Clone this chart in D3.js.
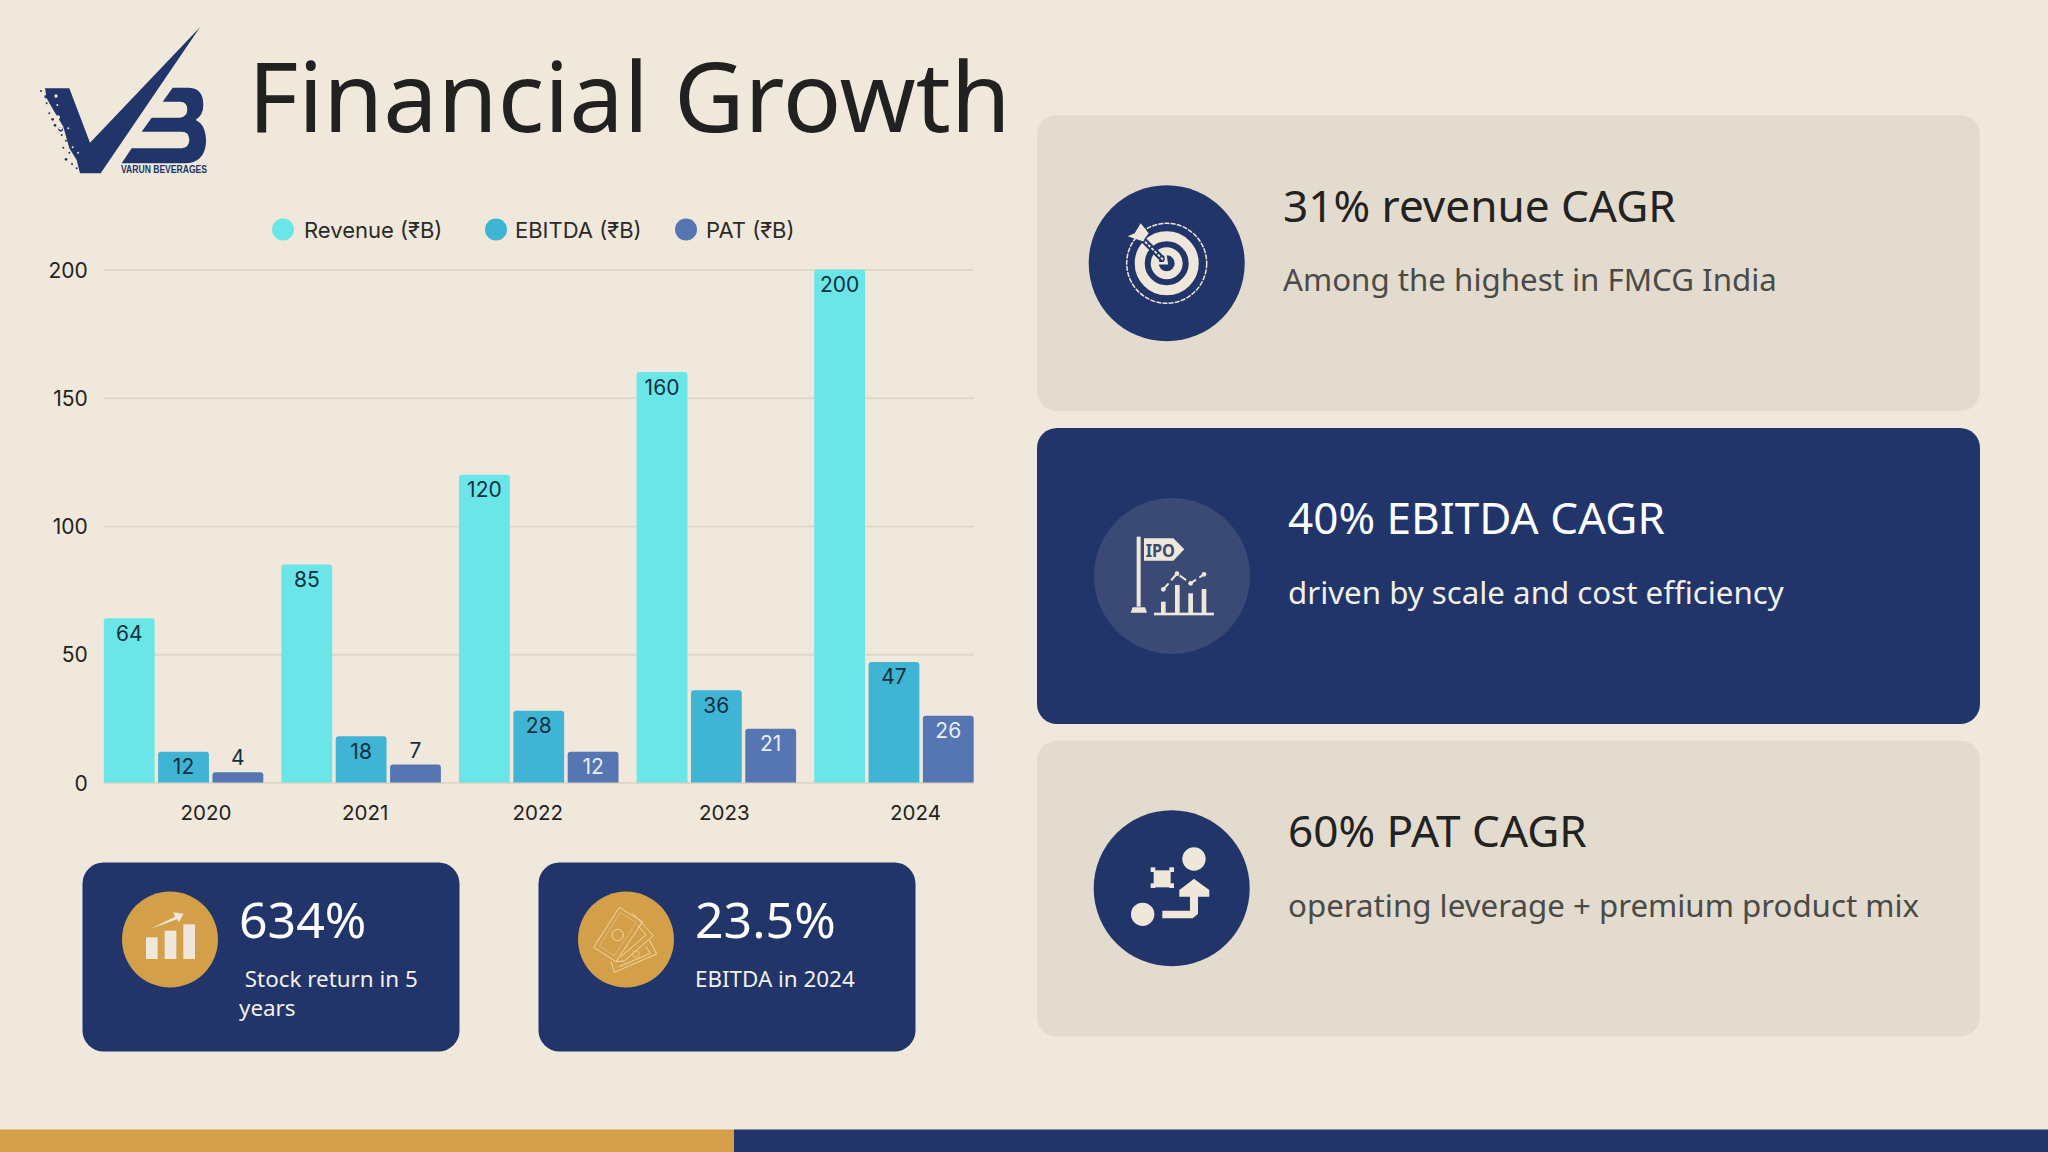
<!DOCTYPE html>
<html><head><meta charset="utf-8">
<script src="https://cdn.jsdelivr.net/npm/d3@7/dist/d3.min.js"></script>
<style>html,body{margin:0;padding:0;background:#f0e8da;overflow:hidden}svg{display:block}</style>
</head><body><svg id="c" width="2048" height="1152"></svg>
<script>
const titleText = "Financial Growth";
const years = ["2020","2021","2022","2023","2024"];
const seriesNames = ["Revenue (₹B)","EBITDA (₹B)","PAT (₹B)"];
const revenue = [64,85,120,160,200];
const ebitda = [12,18,28,36,47];
const pat = [4,7,12,21,26];
const yTicks = [0,50,100,150,200];
const seriesColors = ["#6ae5e8","#3fb4d5","#5576b3"];
const labelColors = ["#12303f","#12303f","#e8eef6"];
const statValues = ["634%","23.5%"];
const statLines = [[" Stock return in 5","years"],["EBITDA in 2024"]];
const cardTitles = ["31% revenue CAGR","40% EBITDA CAGR","60% PAT CAGR"];
const cardSubs = ["Among the highest in FMCG India","driven by scale and cost efficiency","operating leverage + premium product mix"];

const NAVY="#21356b", GOLD="#d39f49", BG="#f0e8da", CARD="#e3dbcd", ICON="#efe7d9";
const SANS="'Noto Sans',sans-serif", GEO="Inter,'Noto Sans',sans-serif";
const svg=d3.select("#c");
svg.append("rect").attr("width",2048).attr("height",1152).attr("fill",BG);

// title
svg.append("text").attr("x",248).attr("y",131.5).attr("font-family",SANS).attr("font-size",97)
  .attr("fill","#212121").text(titleText);

// logo
const logo=svg.append("g").attr("transform","translate(30,20) scale(0.3333)").attr("fill","#21356b");
logo.append("path").attr("d","M45 205L118 205L180 368L510 22L212 460L150 460L140 420L118 385L100 320L70 270L50 235Z");
logo.append("path").attr("d","M398 245L428 203L478 203Q520 205 520 255Q520 285 497 300Q530 315 528 370Q522 430 465 430L275 430L305 385L455 385Q478 382 478 360Q478 335 455 335L335 335L365 293L450 293Q472 290 472 268Q472 245 450 245Z");
[[33,213,3],[48,230,5],[58,280,3],[68,298,4],[75,316,4],[92,328,7],[95,345,3],[108,362,3],[100,383,3],[118,398,3],[108,418,4],[126,432,3],[140,445,3],[60,240,3],[50,250,3]]
 .forEach(d=>logo.append("circle").attr("cx",d[0]).attr("cy",d[1]).attr("r",d[2]));
[[78,228,5],[82,255,3],[84,292,6],[92,325,5],[115,325,3],[128,382,3],[144,398,3]]
 .forEach(d=>logo.append("circle").attr("cx",d[0]).attr("cy",d[1]).attr("r",d[2]).attr("fill",BG));
svg.append("text").attr("x",121).attr("y",173).attr("font-family","'Liberation Sans',sans-serif")
  .attr("font-weight",700).attr("font-size",10.5).attr("textLength",86).attr("lengthAdjust","spacingAndGlyphs").attr("fill",NAVY).text("VARUN BEVERAGES");

// legend
const legendDot=[283,496,686], legendText=[304,515,706];
seriesNames.forEach((n,i)=>{
  svg.append("circle").attr("cx",legendDot[i]).attr("cy",229.5).attr("r",11).attr("fill",seriesColors[i]);
  svg.append("text").attr("x",legendText[i]).attr("y",238).attr("font-family",GEO).attr("font-size",22).attr("fill","#2a2a2a").text(n);
});

// chart
const x0=d3.scaleBand().domain(years).range([103.8,973.7]).paddingInner(0.102).paddingOuter(0);
const x1=d3.scaleBand().domain([0,1,2]).range([0,x0.bandwidth()]).paddingInner(0.065).paddingOuter(0);
const y=d3.scaleLinear().domain([0,200]).range([782.5,269.5]);

const yAxis=d3.axisLeft(y).tickValues(yTicks).tickSize(-(973.7-103.8)).tickPadding(16);
const gy=svg.append("g").attr("transform","translate(103.8,0)").call(yAxis);
gy.select(".domain").remove();
gy.selectAll(".tick line").attr("stroke","#dfd7c8").attr("stroke-width",2);
gy.selectAll(".tick text").attr("font-family",GEO).attr("font-size",21).attr("fill","#222").attr("dy","0.36em");

const xLabelShift={"2020":22.5,"2021":4,"2022":-1,"2023":8,"2024":21.5};
const xAxis=d3.axisBottom(x0).tickSize(0).tickPadding(0);
const gx=svg.append("g").attr("transform","translate(0,805.5)").call(xAxis);
gx.select(".domain").remove();
gx.selectAll(".tick text").attr("font-family",GEO).attr("font-size",20.5).attr("fill","#222")
  .attr("dy","0.72em").attr("transform",d=>`translate(${xLabelShift[d]},0)`);

const allSeries=[revenue,ebitda,pat];
function barPath(px,w,top,base,r){
  const p=d3.path();
  p.moveTo(px,base);p.lineTo(px,top+r);p.quadraticCurveTo(px,top,px+r,top);
  p.lineTo(px+w-r,top);p.quadraticCurveTo(px+w,top,px+w,top+r);p.lineTo(px+w,base);p.closePath();
  return p.toString();
}
const fits=v=>y(0)-y(v)>25;
allSeries.forEach((vals,si)=>{
  const g=svg.append("g");
  g.selectAll("path").data(vals).join("path")
    .attr("d",(v,i)=>barPath(x0(years[i])+x1(si),x1.bandwidth(),y(v),y(0),3))
    .attr("fill",seriesColors[si]);
  g.selectAll("text").data(vals).join("text")
    .attr("x",(v,i)=>x0(years[i])+x1(si)+x1.bandwidth()/2)
    .attr("y",v=>fits(v)?y(v)+22.5:y(v)-7)
    .attr("text-anchor","middle").attr("font-family",GEO).attr("font-size",21)
    .attr("fill",v=>fits(v)?labelColors[si]:"#12303f")
    .text(v=>v);
});

// stat cards
const statX=[82.5,538.5], statCx=[170,626], statTextX=[239,695];
statValues.forEach((v,i)=>{
  svg.append("rect").attr("x",statX[i]).attr("y",862.5).attr("width",377).attr("height",189).attr("rx",21).attr("fill",NAVY);
  svg.append("circle").attr("cx",statCx[i]).attr("cy",939.5).attr("r",48).attr("fill",GOLD);
  svg.append("text").attr("x",statTextX[i]).attr("y",937.5).attr("font-family",SANS).attr("font-size",50).attr("fill","#fff").text(v);
  statLines[i].forEach((l,k)=>{
    svg.append("text").style("white-space","pre").attr("x",statTextX[i]).attr("y",987+k*29).attr("font-family",SANS).attr("font-size",22.4).attr("fill","#f4f0e8").text(l);
  });
});
// stat icon 1
const si1=svg.append("g").attr("transform","translate(115,885) scale(0.3333)").attr("fill",ICON);
[[93,157,35,65],[149,137,35,85],[205,118,35,104]].forEach(d=>si1.append("rect").attr("x",d[0]).attr("y",d[1]).attr("width",d[2]).attr("height",d[3]));
si1.append("path").attr("d","M105 132L180 95L175 82L206 86L192 112L186 103Z");
// stat icon 2
const si2=svg.append("g").attr("transform","translate(571,885) scale(0.3333)").attr("fill","none").attr("stroke","#efd9a8").attr("stroke-width",3).attr("stroke-linejoin","round");
si2.append("path").attr("d","M145 67L215 110L135 230L68 187Z");
si2.append("path").attr("d","M148 83L196 113L130 212L85 183Z").attr("stroke-width",1.5);
si2.append("circle").attr("cx",140).attr("cy",150).attr("r",17);
si2.append("path").attr("d","M185 85L247 152L160 228L135 230M200 120L225 150L150 215");
si2.append("path").attr("d","M235 165L257 207L130 262L120 230M225 185L238 205L145 245");
si2.append("circle").attr("cx",195).attr("cy",207).attr("r",10).attr("stroke-width",2);

// bottom band
svg.append("rect").attr("x",0).attr("y",1129.5).attr("width",734).attr("height",22.5).attr("fill",GOLD);
svg.append("rect").attr("x",734).attr("y",1129.5).attr("width",1314).attr("height",22.5).attr("fill",NAVY);

// right cards
const cardY=[115,428,740.5], cardFill=[CARD,NAVY,CARD];
const circleC=[[1166.7,263.3],[1172,576],[1171.7,888.3]];
const circleFill=[NAVY,"#3a4a75",NAVY];
const textX=[1283,1288,1288];
const titleBase=[221.5,534,847], subBase=[291,603.5,916.5];
const titleCol=["#222","#fff","#222"], subCol=["#4a4a48","#f2efe8","#4a4a48"];
cardTitles.forEach((t,i)=>{
  svg.append("rect").attr("x",1037).attr("y",cardY[i]).attr("width",943).attr("height",296).attr("rx",20).attr("fill",cardFill[i]);
  svg.append("circle").attr("cx",circleC[i][0]).attr("cy",circleC[i][1]).attr("r",78).attr("fill",circleFill[i]);
  svg.append("text").attr("x",textX[i]).attr("y",titleBase[i]).attr("font-family",SANS).attr("font-size",44.1).attr("fill",titleCol[i]).text(t);
  svg.append("text").attr("x",textX[i]).attr("y",subBase[i]).attr("font-family",SANS).attr("font-size",31.25).attr("fill",subCol[i]).text(cardSubs[i]);
});
// target icon
const t=svg.append("g").attr("transform","translate(1166.7,263.3)").attr("fill","none").attr("stroke",ICON);
t.append("circle").attr("r",40).attr("stroke-width",1.5).attr("stroke-dasharray","5 1.2");
t.append("circle").attr("r",27).attr("stroke-width",10);
t.append("circle").attr("r",12).attr("stroke-width",8);
t.append("path").attr("d","M-30 -30L0 0").attr("stroke",NAVY).attr("stroke-width",6);
t.append("path").attr("d","M-28 -28L0 0").attr("stroke-width",1.8).attr("stroke-dasharray","3 1.5");
t.append("path").attr("d","M-12 0L0 0L-2 -13").attr("stroke-width",2.5);
t.append("path").attr("d","M-26 -40L-18 -30L-24 -22L-39 -27L-32 -30Z").attr("fill",ICON).attr("stroke","none");
// IPO icon
const ipo=svg.append("g").attr("transform","translate(1030,470) scale(0.3333)").attr("fill",ICON);
ipo.append("rect").attr("x",320).attr("y",200).attr("width",12).attr("height",210);
ipo.append("path").attr("d","M302 428L308 412L345 412L351 428Z");
ipo.append("path").attr("d","M342 205L430 205L463 238L430 272L342 272Z");
ipo.append("text").attr("x",347).attr("y",260).attr("font-family",SANS).attr("font-weight",700).attr("font-size",54).attr("textLength",88).attr("lengthAdjust","spacingAndGlyphs").attr("fill","#3a4a75").text("IPO");
ipo.append("rect").attr("x",372).attr("y",428).attr("width",180).attr("height",8);
[[393,395],[435,345],[475,370],[515,357]].forEach(d=>ipo.append("rect").attr("x",d[0]).attr("y",d[1]).attr("width",14).attr("height",430-d[1]));
[[400,358],[441,311],[482,340],[522,313]].forEach(d=>ipo.append("circle").attr("cx",d[0]).attr("cy",d[1]).attr("r",7));
ipo.append("path").attr("d","M400 358L441 311L482 340L522 313").attr("fill","none").attr("stroke",ICON).attr("stroke-width",6).attr("stroke-dasharray","24 12");
// strategy icon
const st=svg.append("g").attr("transform","translate(1060,790) scale(0.3333)").attr("fill",ICON);
st.append("circle").attr("cx",402).attr("cy",207).attr("r",35);
st.append("circle").attr("cx",248).attr("cy",373).attr("r",35);
st.append("rect").attr("x",281).attr("y",241).attr("width",51).attr("height",51);
[[272,232],[328,232],[272,280],[328,280]].forEach(d=>st.append("rect").attr("x",d[0]).attr("y",d[1]).attr("width",14).attr("height",14));
st.append("path").attr("d","M307 362L390 362L390 320L358 320L358 300L385 280L402 266L420 280L448 300L448 320L414 320L414 372L398 385L307 385Z");
</script></body></html>
